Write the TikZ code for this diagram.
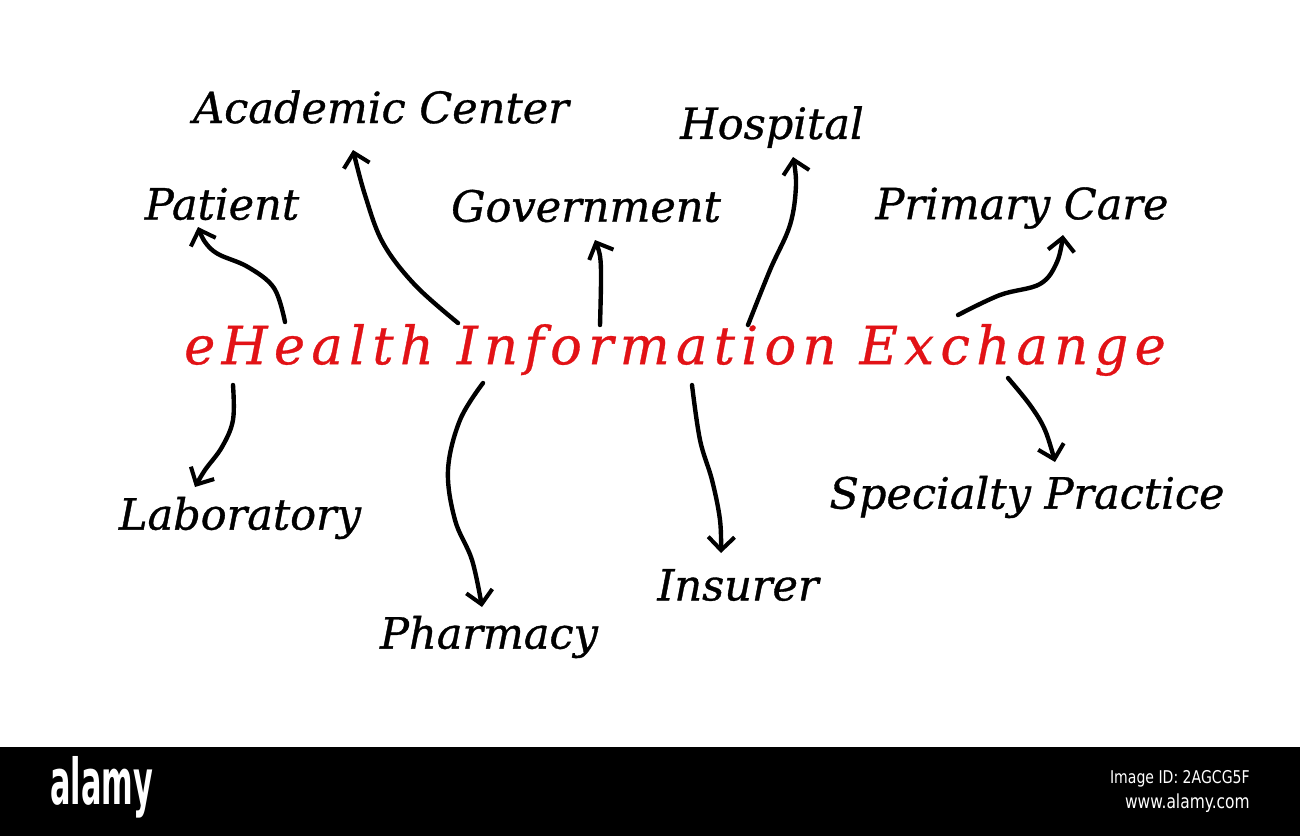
\documentclass[tikz,border=0pt]{standalone}
\usepackage{fontspec}
\setmainfont{DejaVu Serif}
\newfontfamily\titlefont[LetterSpace=12,FakeBold=0.6]{DejaVu Serif}
\newfontfamily\handfont[FakeBold=0.8]{DejaVu Serif}
\setsansfont{DejaVu Sans}
\usetikzlibrary{arrows.meta}
\definecolor{hred}{RGB}{226,18,22}
\begin{document}
\begin{tikzpicture}[x=0.02cm,y=-0.02cm,
  lbl/.style={font=\handfont\fontsize{24.5}{28}\selectfont\itshape, inner sep=0pt},
  maintitle/.style={font=\titlefont\fontsize{30}{34}\selectfont\itshape, text=hred, inner sep=0pt},
  conn/.style={line width=2.5pt, line cap=round, line join=round,
    -{Straight Barb[length=7.5pt,width=15pt,line width=2.3pt]}}
]
\useasboundingbox (0,0) rectangle (1300,836);
\fill[white] (0,0) rectangle (1300,836);
\fill[black] (0,747) rectangle (1300,836);

% nodes
\node[maintitle] (hie) at (675,350) {eHealth Information Exchange};
\node[lbl] (acad) at (381,107) {Academic Center};
\node[lbl] (pat) at (222,204) {Patient};
\node[lbl] (gov) at (586,206) {Government};
\node[lbl] (hosp) at (772,127) {Hospital};
\node[lbl] (prim) at (1022,208) {Primary Care};
\node[lbl] (lab) at (240,518) {Laboratory};
\node[lbl] (pharm) at (489,637) {Pharmacy};
\node[lbl] (ins) at (738,585) {Insurer};
\node[lbl] (spec) at (1027,497) {Specialty Practice};

% watermark
\node[text=white, font=\sffamily\bfseries\fontsize{36}{36}\selectfont, inner sep=0pt, anchor=base west] (logo) at (50,804) {\scalebox{0.48}[1]{alamy}};
\node[text=white, font=\sffamily\fontsize{10}{12}\selectfont, inner sep=0pt, anchor=base east] (imgid) at (1250,783) {\scalebox{0.8}[1]{Image ID: 2AGCG5F}};
\node[text=white, font=\sffamily\fontsize{11}{12}\selectfont, inner sep=0pt, anchor=base east] (www) at (1250,808) {\scalebox{0.8}[1]{www.alamy.com}};

% connector end points
\coordinate (sPat) at (285,322);  \coordinate (tPat) at (198,227);
\coordinate (sAcad) at (458,323); \coordinate (tAcad) at (353,150);
\coordinate (sGov) at (600,325);  \coordinate (tGov) at (595,240);
\coordinate (sHosp) at (748,325); \coordinate (tHosp) at (793,157);
\coordinate (sPrim) at (958,315); \coordinate (tPrim) at (1063,235);
\coordinate (sLab) at (233,385);  \coordinate (tLab) at (195,487);
\coordinate (sPharm) at (483,383);\coordinate (tPharm) at (482,607);
\coordinate (sIns) at (692,385);  \coordinate (tIns) at (721,553);
\coordinate (sSpec) at (1008,378);\coordinate (tSpec) at (1055,462);

% connectors
\draw[conn] plot[smooth, tension=0.6] coordinates {(sPat) (274,288) (248,267) (218,254) (205,242) (tPat)};
\draw[conn] plot[smooth, tension=0.6] coordinates {(sAcad) (415,285) (383,243) (365,195) (tAcad)};
\draw[conn] plot[smooth, tension=0.6] coordinates {(sGov) (601,280) (600,256) (tGov)};
\draw[conn] plot[smooth, tension=0.6] coordinates {(sHosp) (770,270) (790,225) (796,185) (tHosp)};
\draw[conn] plot[smooth, tension=0.6] coordinates {(sPrim) (1000,295) (1040,284) (1057,262) (tPrim)};
\draw[conn] plot[smooth, tension=0.6] coordinates {(sLab) (233,420) (222,447) (205,470) (tLab)};
\draw[conn] plot[smooth, tension=0.6] coordinates {(sPharm) (460,420) (448,470) (455,520) (472,560) (tPharm)};
\draw[conn] plot[smooth, tension=0.6] coordinates {(sIns) (700,440) (712,480) (720,520) (tIns)};
\draw[conn] plot[smooth, tension=0.6] coordinates {(sSpec) (1030,405) (1045,430) (tSpec)};
\end{tikzpicture}
\end{document}
